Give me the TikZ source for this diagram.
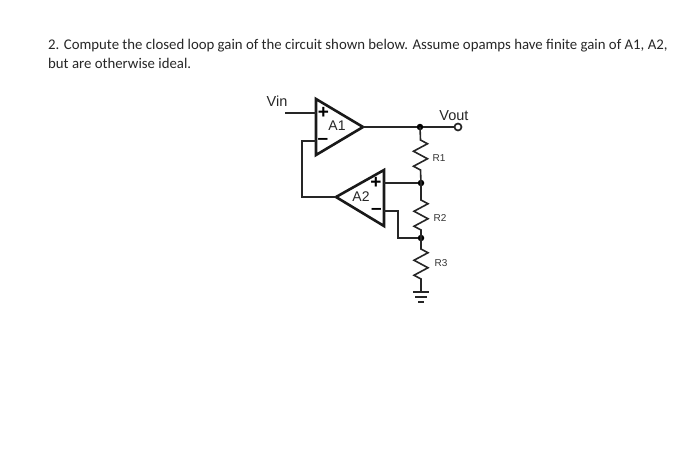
\documentclass[tikz,border=0pt]{standalone}
\usepackage{fontspec}
\usepackage{tikz}
\setmainfont{Carlito}
\newfontfamily\labelfont{Liberation Sans}
\newcommand{\zig}{-- ++(7,3.75) -- ++(-14,7.5) -- ++(14,7.5) -- ++(-14,7.5) -- ++(7,3.75)}
\tikzset{
	wire/.style={line width=1.7pt, black!85},
	opamp/.style={line width=2.6pt, black!90, line join=miter},
	res/.style={line width=1.6pt, black!85, line join=miter},
	junction/.style={circle, fill=black, inner sep=0pt, minimum size=6.5pt},
	question/.style={anchor=base west, inner sep=0pt, font=\fontsize{14.8}{18}\selectfont, text=black!85},
	lbl/.style={inner sep=0pt, font=\labelfont\fontsize{14.5}{16}\selectfont, text=black!85},
	small/.style={inner sep=0pt, font=\labelfont\fontsize{10}{12}\selectfont, text=black!80},
	sign/.style={inner sep=0pt, font=\labelfont\bfseries\fontsize{19}{20}\selectfont, text=black}
}
\begin{document}
\begin{tikzpicture}[x=1pt, y=-1pt]
	\useasboundingbox (0,0) rectangle (700,461);
	% Text
	\node[question] (line1) at (48,49) {2. Compute the closed loop gain of the circuit shown below. Assume opamps have finite gain of A1, A2,};
	\node[question] (line2) at (48,68) {but are otherwise ideal.};
	% Opamps
	\coordinate (a1top) at (316,99);
	\coordinate (a1bot) at (316,155);
	\coordinate (a1out) at (363,127);
	\coordinate (a1p) at (316,113);
	\coordinate (a1m) at (316,141);
	\coordinate (a2top) at (384,170);
	\coordinate (a2bot) at (384,226);
	\coordinate (a2out) at (336,197);
	\coordinate (a2p) at (384,183);
	\coordinate (a2m) at (384,211);
	\draw[opamp] (a1top) -- (a1out) -- (a1bot) -- cycle;
	\draw[opamp] (a2top) -- (a2out) -- (a2bot) -- cycle;
	\node[lbl, font=\labelfont\fontsize{14}{16}\selectfont] (a1) at (337,126) {A1};
	\node[lbl, font=\labelfont\fontsize{14}{16}\selectfont] (a2) at (361,197) {A2};
	\node[sign] (a1plus) at (323.5,113) {+};
	\node[sign] (a1minus) at (323,141) {–};
	\node[sign] (a2plus) at (376,183) {+};
	\node[sign] (a2minus) at (376.5,211) {–};
	% Nodes
	\node[junction] (vo) at (420,127) {};
	\node[junction] (n1) at (421,183) {};
	\node[junction] (n2) at (421,238) {};
	\node[circle, draw, wire, fill=white, inner sep=0pt, minimum size=7pt] (out) at (458,127) {};
	\coordinate (vin) at (285,113);
	\coordinate (gnd) at (421,292);
	\coordinate (fb1) at (302,141);
	\coordinate (fb2) at (302,197);
	\coordinate (m1) at (398,211);
	\coordinate (m2) at (398,238);
	% Labels
	\node[lbl] (vinlabel) at (277,101) {Vin};
	\node[lbl] (voutlabel) at (454,115.5) {Vout};
	\node[small] (r1) at (439,158.5) {R1};
	\node[small] (r2) at (440,218.5) {R2};
	\node[small] (r3) at (441,263.5) {R3};
	% Wires
	\draw[wire] (vin) -- (a1p);
	\draw[wire] (a1out) -- (vo);
	\draw[wire] (vo) -- (out);
	\draw[wire] (a1m) -- (fb1) -- (fb2) -- (a2out);
	\draw[wire] (a2p) -- (n1);
	\draw[wire] (a2m) -- (m1) -- (m2) -- (n2);
	\draw[res] (vo.center) -- ++(0.5,13) \zig -- (n1.center);
	\draw[res] (n1.center) -- ++(0,17) \zig -- (n2.center);
	\draw[res] (n2.center) -- ++(0,11) \zig -- (gnd);
	% Ground
	\foreach \y/\w in {0/8,5/6,10/3} {
		\draw[wire, line width=2.2pt] ([shift={(-\w,\y)}]gnd) -- ([shift={(\w,\y)}]gnd);
	}
\end{tikzpicture}
\end{document}
